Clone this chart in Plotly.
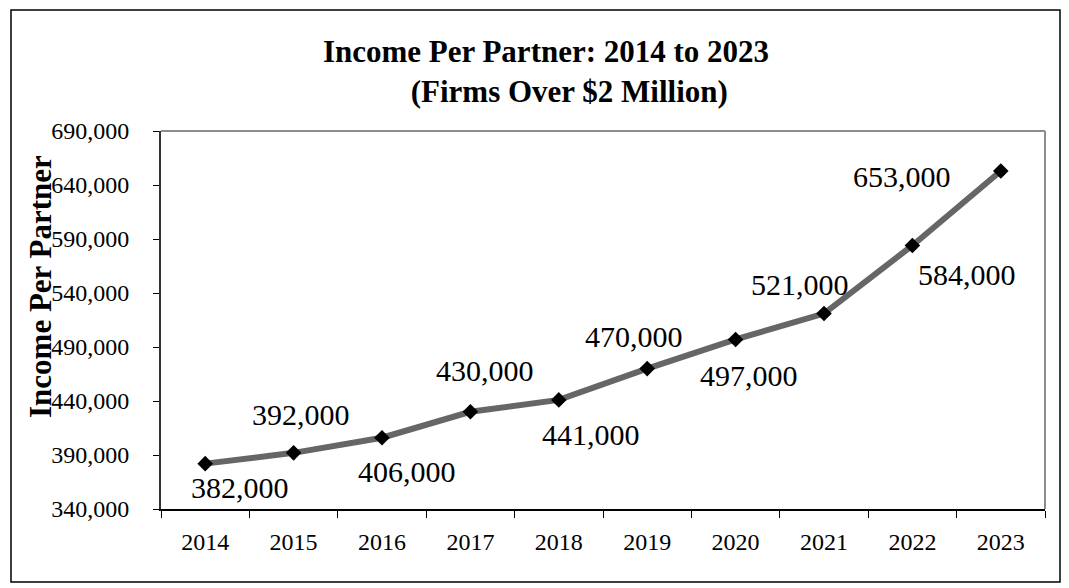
import plotly.graph_objects as go

years = ["2014", "2015", "2016", "2017", "2018", "2019", "2020", "2021", "2022", "2023"]
income = [382000, 392000, 406000, 430000, 441000, 470000, 497000, 521000, 584000, 653000]
y_ticks = [340000, 390000, 440000, 490000, 540000, 590000, 640000, 690000]

# label offsets in pixels (dx, dy) relative to the marker; dy positive = down
label_offsets = [(35, 24), (7, -38), (25, 34), (15, -41), (32, 35),
                 (-13, -32), (13, 36), (-24, -29), (55, 29), (-99, 6)]

W, H = 1069, 588
L, R, T, B = 161, 1045, 131, 509
PW, PH = R - L, B - T


def px(x):
    return (x - L) / PW


def py(y):
    return (B - y) / PH


FONT = "Liberation Serif"
NBSP = "\u00a0"

fig = go.Figure()
fig.add_trace(go.Scatter(
    x=years, y=income, mode="lines+markers",
    line=dict(color="#666666", width=6),
    marker=dict(symbol="diamond", size=12, color="black"),
    hoverinfo="skip", showlegend=False,
))

annotations = []
for i, (v, (dx, dy)) in enumerate(zip(income, label_offsets)):
    annotations.append(dict(
        x=i, y=v, xref="x", yref="y", text=f"{v:,}", showarrow=False,
        xanchor="center", yanchor="middle",
        xshift=dx, yshift=-dy, font=dict(family=FONT, size=30, color="black"),
    ))

annotations.append(dict(
    x=px(40), y=py(286), xref="paper", yref="paper", text="<b>Income Per Partner</b>",
    textangle=-90, showarrow=False, xanchor="center", yanchor="middle",
    font=dict(family=FONT, size=31, color="black"),
))

shapes = [
    dict(type="rect", xref="paper", yref="paper", x0=px(11), x1=px(1060), y0=py(582), y1=py(10),
         line=dict(color="black", width=1.5), fillcolor="rgba(0,0,0,0)", layer="below"),
    dict(type="line", xref="paper", yref="paper", x0=0, x1=1, y0=1, y1=1,
         line=dict(color="#8c8c8c", width=2)),
    dict(type="line", xref="paper", yref="paper", x0=1, x1=1, y0=0, y1=1,
         line=dict(color="#8c8c8c", width=2)),
]

fig.update_layout(
    width=W, height=H,
    margin=dict(l=L, r=W - R, t=T, b=H - B),
    paper_bgcolor="white", plot_bgcolor="white",
    title=dict(
        text="<b>Income Per Partner: 2014 to 2023<br>" + NBSP * 6 + "(Firms Over $2 Million)</b>",
        x=px(546), y=1 - 62 / H, xref="paper", yref="container", xanchor="center", yanchor="middle",
        font=dict(family=FONT, size=31, color="black"),
    ),
    xaxis=dict(
        type="category", tickson="boundaries", ticks="outside", ticklen=7, tickcolor="black",
        showline=True, linecolor="black", linewidth=1.5, showgrid=False, zeroline=False,
        tickfont=dict(family=FONT, size=24, color="black"), ticklabelstandoff=10,
        range=[-0.5, 9.5],
    ),
    yaxis=dict(
        range=[340000, 690000], tickvals=y_ticks, ticktext=[f"{t:,}" for t in y_ticks],
        ticks="outside", ticklen=6, tickcolor="black",
        showline=True, linecolor="#333333", linewidth=2, showgrid=False, zeroline=False,
        tickfont=dict(family=FONT, size=24, color="black"), ticklabelstandoff=19,
    ),
    annotations=annotations,
    shapes=shapes,
)

fig.write_html("out.html")
